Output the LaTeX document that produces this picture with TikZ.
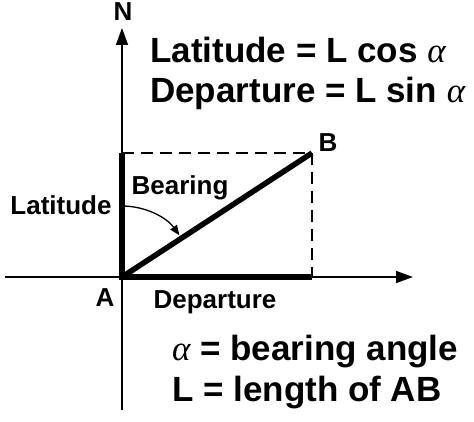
\documentclass[tikz,border=0pt]{standalone}
\usepackage{fontspec}
\setmainfont{Liberation Sans}
\newfontfamily\greekfont{Liberation Serif}
\newcommand{\alp}{{\greekfont\mdseries\itshape α}}
\usetikzlibrary{arrows.meta}
\begin{document}
\begin{tikzpicture}[x=1pt,y=-1pt,
  axisline/.style={line width=1.6pt},
  heavyline/.style={line width=5.5pt},
  dashline/.style={dash pattern=on 12pt off 7pt, line width=1.3pt},
  lbl/.style={font=\bfseries\fontsize{26}{28}\selectfont, inner sep=0pt},
  big/.style={font=\bfseries\fontsize{35}{40}\selectfont, inner sep=0pt, anchor=west}]
\useasboundingbox (0,0) rectangle (474,422);
\coordinate (O) at (122,277);
\coordinate (Pb) at (312,153);
\coordinate (Plat) at (122,153);
\coordinate (Pdep) at (312,277);
\coordinate (Ntop) at (122,28);
\coordinate (Nbot) at (122,410);
\coordinate (Eleft) at (5,277);
\coordinate (Eright) at (413,277);
\coordinate (arcstart) at (122,206);
% axes
\draw[axisline, -{Triangle[length=17pt,width=12pt]}] (Nbot) -- (Ntop);
\draw[axisline, -{Triangle[length=17pt,width=12pt]}] (Eleft) -- (Eright);
% dashed rectangle sides
\draw[dashline] (Plat) -- (Pb) -- (Pdep);
% heavy lines
\draw[heavyline] (Plat) -- (O) -- (Pdep);
\draw[heavyline] (O) -- (Pb);
% bearing arc
\draw[line width=1.3pt, -{Triangle[length=10pt,width=8pt]}] (arcstart) arc[start angle=-90, end angle=-36, radius=71];
% labels
\node[lbl] (N) at (123,12) {N};
\node[lbl] (B) at (328,143) {B};
\node[lbl] (A) at (105,298) {A};
\node[lbl] (lat) at (61,205) {Latitude};
\node[lbl] (bear) at (180,188) {Bearing};
\node[lbl] (dep) at (215,302) {Departure};
\node[big] (eq1) at (150,50) {Latitude = L cos \alp};
\node[big] (eq2) at (150,93) {Departure = L sin \alp};
\node[big] (def1) at (172,352) {\alp\ = bearing angle};
\node[big] (def2) at (172,393) {L = length of AB};
\end{tikzpicture}
\end{document}
